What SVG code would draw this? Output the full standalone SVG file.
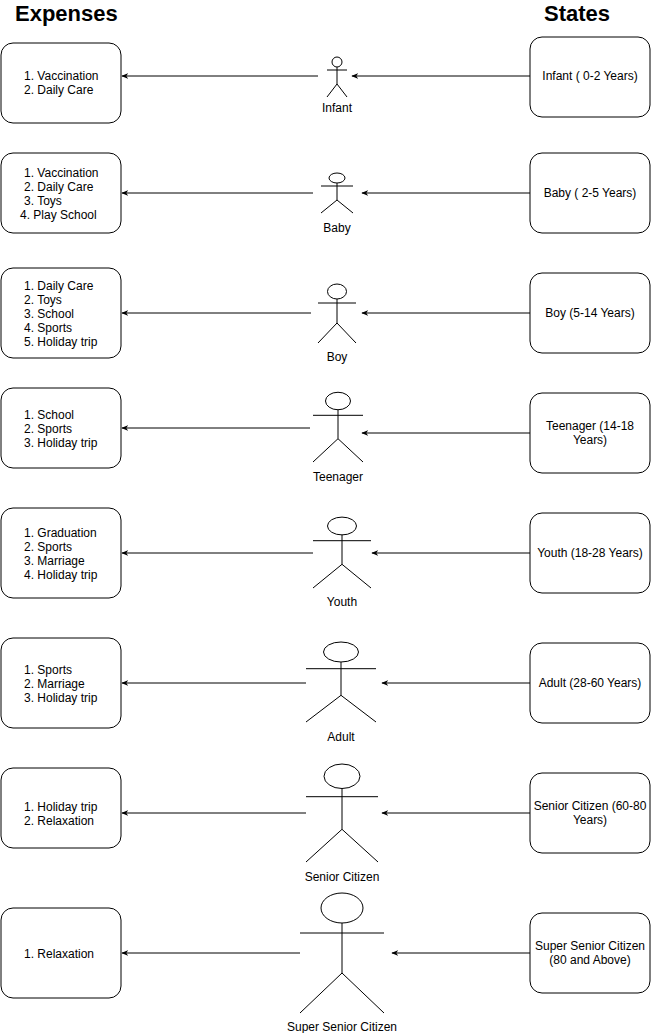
<svg xmlns="http://www.w3.org/2000/svg" width="651" height="1033" viewBox="0 0 651 1033">
<style>
text{font-family:"Liberation Sans",Arial,sans-serif;font-size:12px;fill:#000}
.h{font-size:22px;font-weight:bold}
.box{fill:#fff;stroke:#000;stroke-width:1}
.act{fill:none;stroke:#000;stroke-width:1}
.c{stroke:#000;stroke-width:1;fill:none;marker-end:url(#a)}
</style>
<defs><marker id="a" viewBox="0 0 10 10" refX="9" refY="5" markerWidth="7" markerHeight="7" orient="auto"><path d="M0,1 L10,5 L0,9 L3,5 Z" fill="#000"/></marker></defs>
<rect width="651" height="1033" fill="#fff"/>
<text class="h" x="15" y="21">Expenses</text>
<text class="h" x="544" y="21">States</text>
<g id="connectors">
<line class="c" x1="318" y1="76" x2="122" y2="76"/><line class="c" x1="530" y1="76" x2="352" y2="76"/>
<line class="c" x1="313" y1="193" x2="122" y2="193"/><line class="c" x1="530" y1="193" x2="362" y2="193"/>
<line class="c" x1="311" y1="313" x2="122" y2="313"/><line class="c" x1="530" y1="313" x2="362" y2="313"/>
<line class="c" x1="310" y1="428" x2="122" y2="428"/><line class="c" x1="530" y1="433" x2="362" y2="433"/>
<line class="c" x1="313" y1="553" x2="122" y2="553"/><line class="c" x1="530" y1="553" x2="372" y2="553"/>
<line class="c" x1="306" y1="683" x2="122" y2="683"/><line class="c" x1="530" y1="683" x2="382" y2="683"/>
<line class="c" x1="306" y1="813" x2="122" y2="813"/><line class="c" x1="530" y1="813" x2="382" y2="813"/>
<line class="c" x1="300" y1="953" x2="122" y2="953"/><line class="c" x1="530" y1="953" x2="392" y2="953"/>
</g>
<g id="e1"><rect class="box" x="1" y="43" width="120" height="80" rx="12"/><text x="24" y="80">1. Vaccination</text><text x="24" y="94">2. Daily Care</text></g>
<g id="e2"><rect class="box" x="1" y="153" width="120" height="80" rx="12"/><text x="24" y="177">1. Vaccination</text><text x="24" y="191">2. Daily Care</text><text x="24" y="205">3. Toys</text><text x="20" y="219">4. Play School</text></g>
<g id="e3"><rect class="box" x="1" y="268" width="120" height="90" rx="12"/><text x="24" y="290">1. Daily Care</text><text x="24" y="304">2. Toys</text><text x="24" y="318">3. School</text><text x="24" y="332">4. Sports</text><text x="24" y="346">5. Holiday trip</text></g>
<g id="e4"><rect class="box" x="1" y="388" width="120" height="80" rx="12"/><text x="24" y="419">1. School</text><text x="24" y="433">2. Sports</text><text x="24" y="447">3. Holiday trip</text></g>
<g id="e5"><rect class="box" x="1" y="508" width="120" height="90" rx="12"/><text x="24" y="537">1. Graduation</text><text x="24" y="551">2. Sports</text><text x="24" y="565">3. Marriage</text><text x="24" y="579">4. Holiday trip</text></g>
<g id="e6"><rect class="box" x="1" y="638" width="120" height="90" rx="12"/><text x="24" y="674">1. Sports</text><text x="24" y="688">2. Marriage</text><text x="24" y="702">3. Holiday trip</text></g>
<g id="e7"><rect class="box" x="1" y="768" width="120" height="80" rx="12"/><text x="24" y="811">1. Holiday trip</text><text x="24" y="825">2. Relaxation</text></g>
<g id="e8"><rect class="box" x="1" y="908" width="120" height="90" rx="12"/><text x="24" y="958">1. Relaxation</text></g>
<g id="s1"><rect class="box" x="530" y="37" width="120" height="80" rx="12"/><text x="590" y="80" text-anchor="middle">Infant ( 0-2 Years)</text></g>
<g id="s2"><rect class="box" x="530" y="153" width="120" height="80" rx="12"/><text x="590" y="197" text-anchor="middle">Baby ( 2-5 Years)</text></g>
<g id="s3"><rect class="box" x="530" y="273" width="120" height="80" rx="12"/><text x="590" y="317" text-anchor="middle">Boy (5-14 Years)</text></g>
<g id="s4"><rect class="box" x="530" y="393" width="120" height="80" rx="12"/><text x="590" y="430" text-anchor="middle">Teenager (14-18</text><text x="590" y="444" text-anchor="middle">Years)</text></g>
<g id="s5"><rect class="box" x="530" y="513" width="120" height="80" rx="12"/><text x="590" y="557" text-anchor="middle">Youth (18-28 Years)</text></g>
<g id="s6"><rect class="box" x="530" y="643" width="120" height="80" rx="12"/><text x="590" y="687" text-anchor="middle">Adult (28-60 Years)</text></g>
<g id="s7"><rect class="box" x="530" y="773" width="120" height="80" rx="12"/><text x="590" y="810" text-anchor="middle">Senior Citizen (60-80</text><text x="590" y="824" text-anchor="middle">Years)</text></g>
<g id="s8"><rect class="box" x="530" y="913" width="120" height="80" rx="12"/><text x="590" y="950" text-anchor="middle">Super Senior Citizen</text><text x="590" y="964" text-anchor="middle">(80 and Above)</text></g>
<!-- actors: head ellipse w/2 x h/4, arms at h/3, body to 2h/3 -->
<g id="a1" class="act"><ellipse cx="337" cy="62" rx="5" ry="5"/><path d="M337 67V84M327 70H347M337 84L327 97M337 84L347 97"/><text x="337" y="112" text-anchor="middle" stroke="none">Infant</text></g>
<g id="a2" class="act"><ellipse cx="337" cy="178" rx="8" ry="5"/><path d="M337 183V200M321 186H353M337 200L321 213M337 200L353 213"/><text x="337" y="232" text-anchor="middle" stroke="none">Baby</text></g>
<g id="a3" class="act"><ellipse cx="337" cy="291.5" rx="9.5" ry="7.5"/><path d="M337 299V323M318 303H356M337 323L318 343M337 323L356 343"/><text x="337" y="361" text-anchor="middle" stroke="none">Boy</text></g>
<g id="a4" class="act"><ellipse cx="338" cy="401" rx="12.5" ry="8.75"/><path d="M338 409.75V438.7M313 415.3H363M338 438.7L313 462M338 438.7L363 462"/><text x="338" y="481" text-anchor="middle" stroke="none">Teenager</text></g>
<g id="a5" class="act"><ellipse cx="342" cy="526" rx="14.5" ry="8.9"/><path d="M342 534.75V564.3M313 540.7H371M342 564.3L313 588M342 564.3L371 588"/><text x="342" y="606" text-anchor="middle" stroke="none">Youth</text></g>
<g id="a6" class="act"><ellipse cx="341" cy="652" rx="17.5" ry="10"/><path d="M341 662V695.3M306 668.7H376M341 695.3L306 722M341 695.3L376 722"/><text x="341" y="741" text-anchor="middle" stroke="none">Adult</text></g>
<g id="a7" class="act"><ellipse cx="342" cy="776.25" rx="18" ry="12.25"/><path d="M342 788.5V829.3M306 796.7H378M342 829.3L306 862M342 829.3L378 862"/><text x="342" y="881" text-anchor="middle" stroke="none">Senior Citizen</text></g>
<g id="a8" class="act"><ellipse cx="342" cy="908" rx="21" ry="15"/><path d="M342 923V973M300 933H384M342 973L300 1013M342 973L384 1013"/><text x="342" y="1031" text-anchor="middle" stroke="none">Super Senior Citizen</text></g>
</svg>
